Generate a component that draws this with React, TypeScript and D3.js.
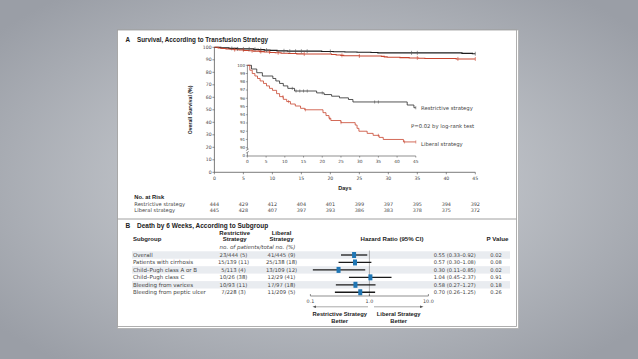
import React from 'react';
import * as d3 from 'd3';

// ---------- Data ----------
const restrictiveSteps: [number, number][] = [
  [0, 100], [1.1, 99.55], [2.5, 99.1], [4.0, 98.7], [6.8, 98.4], [7.6, 98.1], [8.6, 97.8],
  [9.6, 97.5], [10.8, 97.2], [12.6, 96.88], [18.5, 96.65], [20.5, 96.45], [22.5, 96.25],
  [24.6, 96.05], [27.0, 95.85], [28.2, 95.55], [42.7, 95.18], [44.5, 94.85], [45, 94.85],
];
const liberalSteps: [number, number][] = [
  [0, 100], [0.65, 99.4], [1.3, 99.0], [2.0, 98.7], [2.7, 98.4], [3.4, 98.1], [4.3, 97.8],
  [5.1, 97.5], [5.9, 97.2], [6.7, 96.96], [7.8, 96.56], [8.6, 96.2], [9.6, 95.87], [10.5, 95.6],
  [11.5, 95.3], [12.8, 95.06], [14.2, 94.78], [15.3, 94.6], [20.2, 94.25], [21.0, 93.9],
  [21.8, 93.56], [22.3, 93.3], [25.0, 93.04], [28.8, 92.75], [29.3, 92.35], [29.8, 92.0],
  [32.0, 91.74], [33.6, 91.5], [35.2, 91.25], [36.3, 91.0], [41.7, 90.7], [45, 90.7],
];
const restrictiveCensor = [3, 4, 5, 6, 7, 8, 9, 12, 13, 14, 15, 16, 20, 34, 35, 45];
const liberalCensor = [3.5, 5, 6.5, 8, 9.5, 11, 15.5, 22, 25, 35, 42, 45];
const mainYTicks = [0, 10, 20, 30, 40, 50, 60, 70, 80, 90, 100];
const insetYTicks = [90, 91, 92, 93, 94, 95, 96, 97, 98, 99, 100];
const dayTicks = [0, 5, 10, 15, 20, 25, 30, 35, 40, 45];
const riskRestrictive = [444, 429, 412, 404, 401, 399, 397, 395, 394, 392];
const riskLiberal = [445, 428, 407, 397, 393, 386, 383, 378, 375, 372];

const subgroups = [
  'Overall', 'Patients with cirrhosis', 'Child\u2013Pugh class A or B', 'Child\u2013Pugh class C',
  'Bleeding from varices', 'Bleeding from peptic ulcer',
];
const restrictiveCounts = ['23/444 (5)', '15/139 (11)', '5/113 (4)', '10/26 (38)', '10/93 (11)', '7/228 (3)'];
const liberalCounts = ['41/445 (9)', '25/138 (18)', '13/109 (12)', '12/29 (41)', '17/97 (18)', '11/209 (5)'];
const hazardRatio = [0.55, 0.57, 0.30, 1.04, 0.58, 0.70];
const ciLow = [0.33, 0.30, 0.11, 0.45, 0.27, 0.26];
const ciHigh = [0.92, 1.08, 0.85, 2.37, 1.27, 1.25];
const hrLabels = [
  '0.55 (0.33\u20130.92)', '0.57 (0.30\u20131.08)', '0.30 (0.11\u20130.85)',
  '1.04 (0.45\u20132.37)', '0.58 (0.27\u20131.27)', '0.70 (0.26\u20131.25)',
];
const pValues = ['0.02', '0.08', '0.02', '0.91', '0.18', '0.26'];
const forestTicks = [0.1, 1, 10];
const forestTickLabels = ['0.1', '1.0', '10.0'];

// ---------- Helpers ----------
const survAt = (steps: [number, number][], t: number) => {
  let v = steps[0][1];
  for (const s of steps) if (s[0] <= t) v = s[1];
  return v;
};

const BOLD = '"Liberation Sans", Arial, sans-serif';
const REG = '"DejaVu Sans", Verdana, sans-serif';
const TXT = '#444';
const RED = '#c8452f';
const BLK = '#1e1e1e';

export default function App() {
  const W = 638, H = 359;

  const xMain = d3.scaleLinear().domain([0, 45]).range([214.4, 475.3]);
  const yMain = d3.scaleLinear().domain([0, 100]).range([172.3, 47.3]);
  const xIn = d3.scaleLinear().domain([0, 45]).range([247.4, 415.8]);
  const yIn = d3.scaleLinear().domain([90, 100]).range([147.7, 65.3]);
  const yInZero = 156;

  const lineMain = d3.line<[number, number]>().x(d => xMain(d[0])).y(d => yMain(d[1])).curve(d3.curveStepAfter);
  const lineIn = d3.line<[number, number]>().x(d => xIn(d[0])).y(d => yIn(d[1])).curve(d3.curveStepAfter);

  const xF = d3.scaleLog().domain([0.1, 10]).range([310.4, 428.4]);
  const rowY = (i: number) => 255 + i * 7.45;

  return (
    <svg width={W} height={H} style={{ position: 'absolute', left: 0, top: 0 }} fontFamily={REG}>
      <defs>
        <radialGradient id="bg" cx="50%" cy="50%" r="65%">
          <stop offset="0%" stopColor="#d5d8dc" />
          <stop offset="100%" stopColor="#9a9ea6" />
        </radialGradient>
      </defs>
      <rect x={0} y={0} width={W} height={H} fill="url(#bg)" />

      {/* panel */}
      <rect x={117.5} y={30} width={401} height={298.5} fill="#ffffff" stroke="#a8a8a8" strokeWidth={0.7} />
      <rect x={117.5} y={30} width={399} height={296.5} fill="#ffffff" stroke="#9c9c9c" strokeWidth={0.8} />
      <line x1={117.5} x2={516.5} y1={219} y2={219} stroke="#a0a0a0" strokeWidth={1} />

      {/* ---------- Panel A ---------- */}
      <text x={125.5} y={41.5} fontFamily={BOLD} fontSize={6.3} fontWeight="bold" fill="#222">A</text>
      <text x={137} y={41.5} fontFamily={BOLD} fontSize={6.3} fontWeight="bold" fill="#222">Survival, According to Transfusion Strategy</text>

      {/* main axes */}
      <line x1={xMain(0)} x2={xMain(0)} y1={yMain(100)} y2={yMain(0)} stroke="#444" strokeWidth={0.7} />
      <line x1={xMain(0)} x2={xMain(45)} y1={yMain(0)} y2={yMain(0)} stroke="#444" strokeWidth={0.7} />
      {mainYTicks.map(t => (
        <g key={'my' + t}>
          <line x1={xMain(0) - 2} x2={xMain(0)} y1={yMain(t)} y2={yMain(t)} stroke="#444" strokeWidth={0.6} />
          <text x={xMain(0) - 2.8} y={yMain(t)} dy="0.35em" textAnchor="end" fontSize={4.6} fill={TXT}>{t}</text>
        </g>
      ))}
      {dayTicks.map(t => (
        <g key={'mx' + t}>
          <line x1={xMain(t)} x2={xMain(t)} y1={yMain(0)} y2={yMain(0) + 2} stroke="#444" strokeWidth={0.6} />
          <text x={xMain(t)} y={yMain(0) + 7.6} textAnchor="middle" fontSize={4.6} fill={TXT}>{t}</text>
        </g>
      ))}
      <text x={(xMain(0) + xMain(45)) / 2} y={189.5} textAnchor="middle" fontFamily={BOLD} fontSize={5.6} fontWeight="bold" fill="#222">Days</text>
      <text transform={`translate(192.3,110) rotate(-90)`} textAnchor="middle" fontFamily={BOLD} fontSize={5.2} fontWeight="bold" fill="#222">Overall Survival (%)</text>

      {/* main curves */}
      <path d={lineMain(restrictiveSteps) || ''} fill="none" stroke={BLK} strokeWidth={1.2} />
      <path d={lineMain(liberalSteps) || ''} fill="none" stroke={RED} strokeWidth={1.1} />
      {restrictiveCensor.map((c, i) => (
        <line key={'rc' + i} x1={xMain(c)} x2={xMain(c)} y1={yMain(survAt(restrictiveSteps, c)) - 2} y2={yMain(survAt(restrictiveSteps, c)) + 2} stroke="#555" strokeWidth={0.6} />
      ))}
      {liberalCensor.map((c, i) => (
        <line key={'lc' + i} x1={xMain(c)} x2={xMain(c)} y1={yMain(survAt(liberalSteps, c)) - 2} y2={yMain(survAt(liberalSteps, c)) + 2} stroke={RED} strokeWidth={0.6} />
      ))}

      {/* inset axes */}
      <line x1={xIn(0)} x2={xIn(0)} y1={yIn(100)} y2={149.6} stroke="#444" strokeWidth={0.6} />
      <line x1={xIn(0)} x2={xIn(0)} y1={152.4} y2={yInZero} stroke="#444" strokeWidth={0.6} />
      <line x1={xIn(0) - 1.5} x2={xIn(0) + 1.5} y1={150.6} y2={148.8} stroke="#444" strokeWidth={0.5} />
      <line x1={xIn(0) - 1.5} x2={xIn(0) + 1.5} y1={153.2} y2={151.4} stroke="#444" strokeWidth={0.5} />
      <line x1={xIn(0)} x2={xIn(45)} y1={yInZero} y2={yInZero} stroke="#444" strokeWidth={0.6} />
      {insetYTicks.map(t => (
        <g key={'iy' + t}>
          <line x1={xIn(0) - 1.6} x2={xIn(0)} y1={yIn(t)} y2={yIn(t)} stroke="#444" strokeWidth={0.5} />
          <text x={xIn(0) - 2.3} y={yIn(t)} dy="0.35em" textAnchor="end" fontSize={4.1} fill={TXT}>{t}</text>
        </g>
      ))}
      <line x1={xIn(0) - 1.6} x2={xIn(0)} y1={yInZero} y2={yInZero} stroke="#444" strokeWidth={0.5} />
      <text x={xIn(0) - 2.3} y={yInZero} dy="0.35em" textAnchor="end" fontSize={4.1} fill={TXT}>0</text>
      {dayTicks.map(t => (
        <g key={'ix' + t}>
          <line x1={xIn(t)} x2={xIn(t)} y1={yInZero} y2={yInZero + 1.6} stroke="#444" strokeWidth={0.5} />
          <text x={xIn(t)} y={yInZero + 7} textAnchor="middle" fontSize={4.3} fill={TXT}>{t}</text>
        </g>
      ))}

      {/* inset curves */}
      <path d={lineIn(restrictiveSteps) || ''} fill="none" stroke="#2a2a2a" strokeWidth={0.8} />
      <path d={lineIn(liberalSteps) || ''} fill="none" stroke={RED} strokeWidth={0.8} />
      {restrictiveCensor.filter(c => c >= 12).map((c, i) => (
        <line key={'irc' + i} x1={xIn(c)} x2={xIn(c)} y1={yIn(survAt(restrictiveSteps, c)) - 1.6} y2={yIn(survAt(restrictiveSteps, c)) + 1.6} stroke="#444" strokeWidth={0.5} />
      ))}
      {liberalCensor.filter(c => c >= 9).map((c, i) => (
        <line key={'ilc' + i} x1={xIn(c)} x2={xIn(c)} y1={yIn(survAt(liberalSteps, c)) - 1.6} y2={yIn(survAt(liberalSteps, c)) + 1.6} stroke={RED} strokeWidth={0.5} />
      ))}

      <text x={421} y={108.3} dy="0.35em" fontSize={5.3} fill={TXT}>Restrictive strategy</text>
      <text x={411} y={126.3} dy="0.35em" fontSize={5.3} fill={TXT}>P=0.02 by log-rank test</text>
      <text x={421} y={144} dy="0.35em" fontSize={5.3} fill={TXT}>Liberal strategy</text>

      {/* number at risk */}
      <text x={134.3} y={199.2} fontFamily={BOLD} fontSize={5.8} fontWeight="bold" fill="#222">No. at Risk</text>
      <text x={134.3} y={205.5} fontSize={5.2} fill={TXT}>Restrictive strategy</text>
      <text x={134.3} y={211.8} fontSize={5.2} fill={TXT}>Liberal strategy</text>
      {riskRestrictive.map((v, i) => (
        <text key={'rr' + i} x={xMain(dayTicks[i])} y={205.5} textAnchor="middle" fontSize={4.9} fill={TXT}>{v}</text>
      ))}
      {riskLiberal.map((v, i) => (
        <text key={'rl' + i} x={xMain(dayTicks[i])} y={211.8} textAnchor="middle" fontSize={4.9} fill={TXT}>{v}</text>
      ))}

      {/* ---------- Panel B ---------- */}
      <text x={125.5} y={227.5} fontFamily={BOLD} fontSize={6.5} fontWeight="bold" fill="#222">B</text>
      <text x={137} y={227.5} fontFamily={BOLD} fontSize={6.5} fontWeight="bold" fill="#222">Death by 6 Weeks, According to Subgroup</text>

      <text x={133} y={241.3} fontFamily={BOLD} fontSize={6.0} fontWeight="bold" fill="#222">Subgroup</text>
      <text x={234.7} y={235.3} textAnchor="middle" fontFamily={BOLD} fontSize={6.0} fontWeight="bold" fill="#222">Restrictive</text>
      <text x={234.7} y={241.3} textAnchor="middle" fontFamily={BOLD} fontSize={6.0} fontWeight="bold" fill="#222">Strategy</text>
      <text x={281.5} y={235.3} textAnchor="middle" fontFamily={BOLD} fontSize={6.0} fontWeight="bold" fill="#222">Liberal</text>
      <text x={281.5} y={241.3} textAnchor="middle" fontFamily={BOLD} fontSize={6.0} fontWeight="bold" fill="#222">Strategy</text>
      <text x={257.5} y={249.3} textAnchor="middle" fontSize={5.5} fontStyle="italic" fill={TXT}>no. of patients/total no. (%)</text>
      <text x={392} y={241.3} textAnchor="middle" fontFamily={BOLD} fontSize={6.1} fontWeight="bold" fill="#222">Hazard Ratio (95% CI)</text>
      <text x={497.5} y={241.3} textAnchor="middle" fontFamily={BOLD} fontSize={6.2} fontWeight="bold" fill="#222">P Value</text>

      {subgroups.map((s, i) => (
        i % 2 === 0 ? <rect key={'sh' + i} x={132} y={rowY(i) - 3.7} width={378} height={7.4} fill="#e9ecf0" /> : null
      ))}

      {/* reference line at 1 */}
      <line x1={xF(1)} x2={xF(1)} y1={250.5} y2={296} stroke="#666" strokeWidth={0.5} />

      {subgroups.map((s, i) => {
        const y = rowY(i);
        return (
          <g key={'row' + i}>
            <text x={133} y={y} dy="0.35em" fontSize={5.5} fill={TXT}>{s}</text>
            <text x={233.5} y={y} dy="0.35em" textAnchor="middle" fontSize={5.3} fill={TXT}>{restrictiveCounts[i]}</text>
            <text x={281.5} y={y} dy="0.35em" textAnchor="middle" fontSize={5.3} fill={TXT}>{liberalCounts[i]}</text>
            <line x1={xF(ciLow[i])} x2={xF(ciHigh[i])} y1={y} y2={y} stroke="#1a1a1a" strokeWidth={1.3} />
            <rect x={xF(hazardRatio[i]) - 2} y={y - 3} width={4} height={6} fill="#1f76b4" />
            <text x={433.7} y={y} dy="0.35em" fontSize={5.1} fill={TXT}>{hrLabels[i]}</text>
            <text x={496} y={y} dy="0.35em" textAnchor="middle" fontSize={5.1} fill={TXT}>{pValues[i]}</text>
          </g>
        );
      })}

      {/* forest axis */}
      <line x1={xF(0.1)} x2={xF(10)} y1={296} y2={296} stroke="#444" strokeWidth={0.6} />
      {forestTicks.map((t, i) => (
        <g key={'ft' + i}>
          <line x1={xF(t)} x2={xF(t)} y1={294} y2={296} stroke="#444" strokeWidth={0.6} />
          <text x={xF(t)} y={302.8} textAnchor="middle" fontSize={4.8} fill={TXT}>{forestTickLabels[i]}</text>
        </g>
      ))}

      {/* arrows */}
      <line x1={368} x2={314} y1={306.8} y2={306.8} stroke="#555" strokeWidth={0.5} />
      <path d="M312.5,306.8 L316,305.6 L316,308 Z" fill="#555" />
      <line x1={374} x2={422} y1={306.8} y2={306.8} stroke="#555" strokeWidth={0.5} />
      <path d="M423.5,306.8 L420,305.6 L420,308 Z" fill="#555" />
      <text x={339.7} y={316.3} textAnchor="middle" fontFamily={BOLD} fontSize={5.8} fontWeight="bold" fill="#222">Restrictive Strategy</text>
      <text x={339.7} y={322.7} textAnchor="middle" fontFamily={BOLD} fontSize={5.8} fontWeight="bold" fill="#222">Better</text>
      <text x={398.7} y={316.3} textAnchor="middle" fontFamily={BOLD} fontSize={5.8} fontWeight="bold" fill="#222">Liberal Strategy</text>
      <text x={398.7} y={322.7} textAnchor="middle" fontFamily={BOLD} fontSize={5.8} fontWeight="bold" fill="#222">Better</text>
    </svg>
  );
}
